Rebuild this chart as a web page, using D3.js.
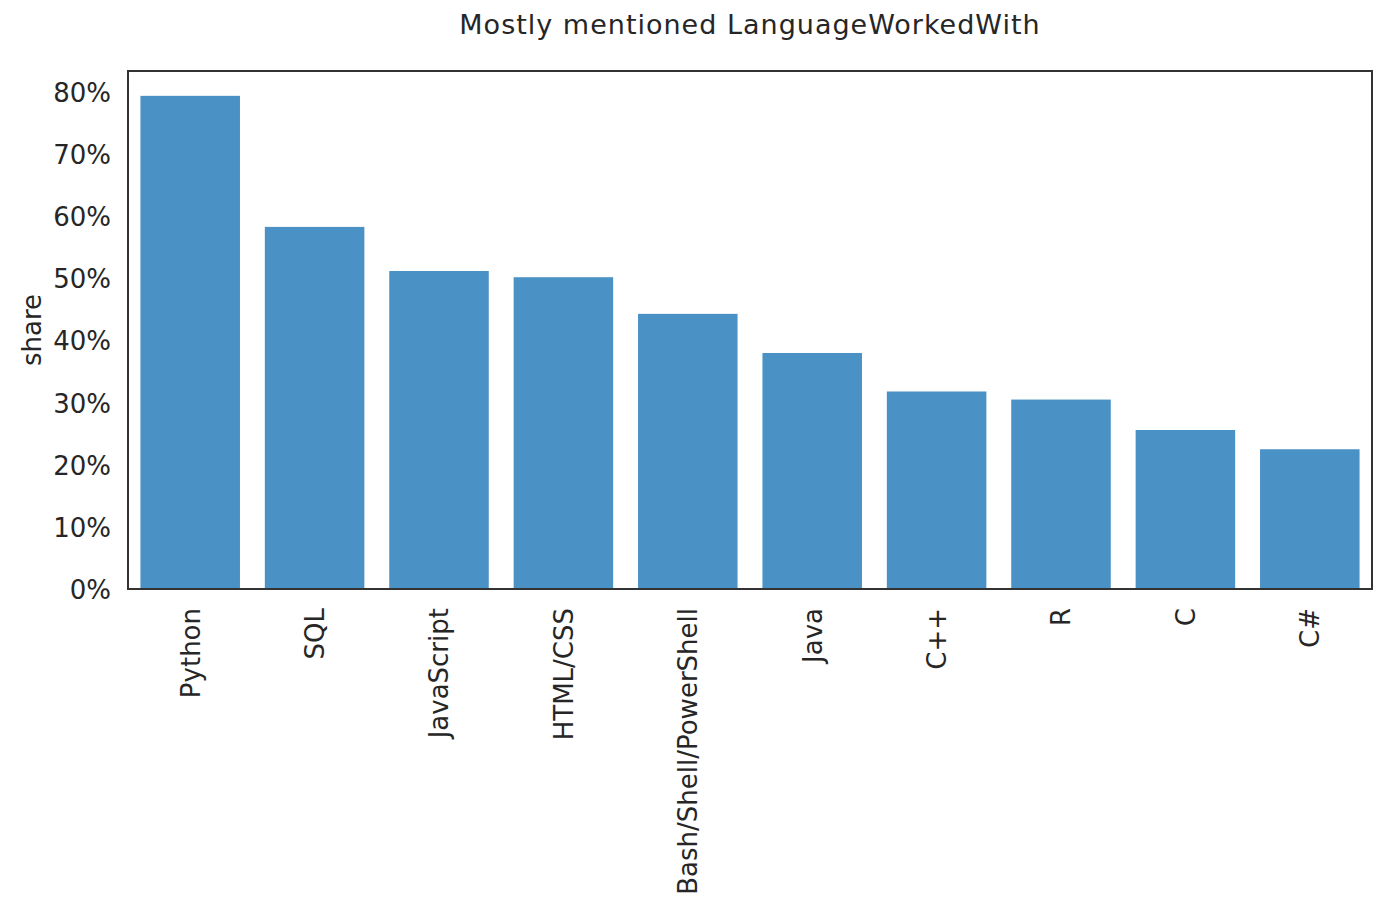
<!DOCTYPE html>
<html>
<head>
<meta charset="utf-8">
<script src="https://cdn.jsdelivr.net/npm/d3@7"></script>
<style>
  body { margin: 0; background: #fff; }
  text { font-family: "DejaVu Sans", sans-serif; fill: #262626; }
</style>
</head>
<body>
<svg id="chart" width="1400" height="916"></svg>
<script>
// data
const languages = ["Python", "SQL", "JavaScript", "HTML/CSS", "Bash/Shell/PowerShell",
                   "Java", "C++", "R", "C", "C#"];
const shares = [0.794, 0.583, 0.512, 0.502, 0.443, 0.380, 0.318, 0.305, 0.256, 0.225];
const yTicks = [0, 0.1, 0.2, 0.3, 0.4, 0.5, 0.6, 0.7, 0.8];

const svg = d3.select("#chart");
const margin = {top: 71, right: 28, bottom: 327, left: 128};
const width = 1400 - margin.left - margin.right;
const height = 916 - margin.top - margin.bottom;

const g = svg.append("g")
    .attr("transform", `translate(${margin.left},${margin.top})`);

const x = d3.scaleBand()
    .domain(languages)
    .range([0, width])
    .paddingInner(0.2)
    .paddingOuter(0.1);

// 80% sits ~21px below the top of the frame
const y = d3.scaleLinear()
    .domain([0, 0.834])
    .range([height, 0]);

// bars
g.selectAll("rect.bar")
  .data(languages)
  .join("rect")
    .attr("class", "bar")
    .attr("x", d => x(d))
    .attr("width", x.bandwidth())
    .attr("y", (d, i) => y(shares[i]))
    .attr("height", (d, i) => height - y(shares[i]))
    .attr("fill", "#4a91c6");

// y axis, labels only
const yAxis = g.append("g")
    .call(d3.axisLeft(y).tickValues(yTicks).tickFormat(d3.format(".0%")).tickSize(0).tickPadding(17));
yAxis.select(".domain").remove();
yAxis.selectAll("text")
    .style("font-size", "26px")
    .attr("dy", "0.36em");

// x axis, rotated labels
const xAxis = g.append("g")
    .attr("transform", `translate(0,${height})`)
    .call(d3.axisBottom(x).tickSize(0).tickPadding(0));
xAxis.select(".domain").remove();
xAxis.selectAll("text")
    .style("font-size", "26px")
    .attr("transform", "rotate(-90)")
    .attr("x", -19)
    .attr("y", 0)
    .attr("dy", "0.36em")
    .attr("text-anchor", "end");

// frame
g.append("rect")
    .attr("width", width)
    .attr("height", height)
    .attr("fill", "none")
    .attr("stroke", "#333")
    .attr("stroke-width", 2);

// title
svg.append("text")
    .attr("x", margin.left + width / 2)
    .attr("y", 34)
    .attr("text-anchor", "middle")
    .style("font-size", "27px")
    .style("letter-spacing", "1px")
    .text("Mostly mentioned LanguageWorkedWith");

// y label
svg.append("text")
    .attr("transform", `translate(41,${margin.top + height / 2}) rotate(-90)`)
    .attr("text-anchor", "middle")
    .style("font-size", "26px")
    .text("share");
</script>
</body>
</html>
